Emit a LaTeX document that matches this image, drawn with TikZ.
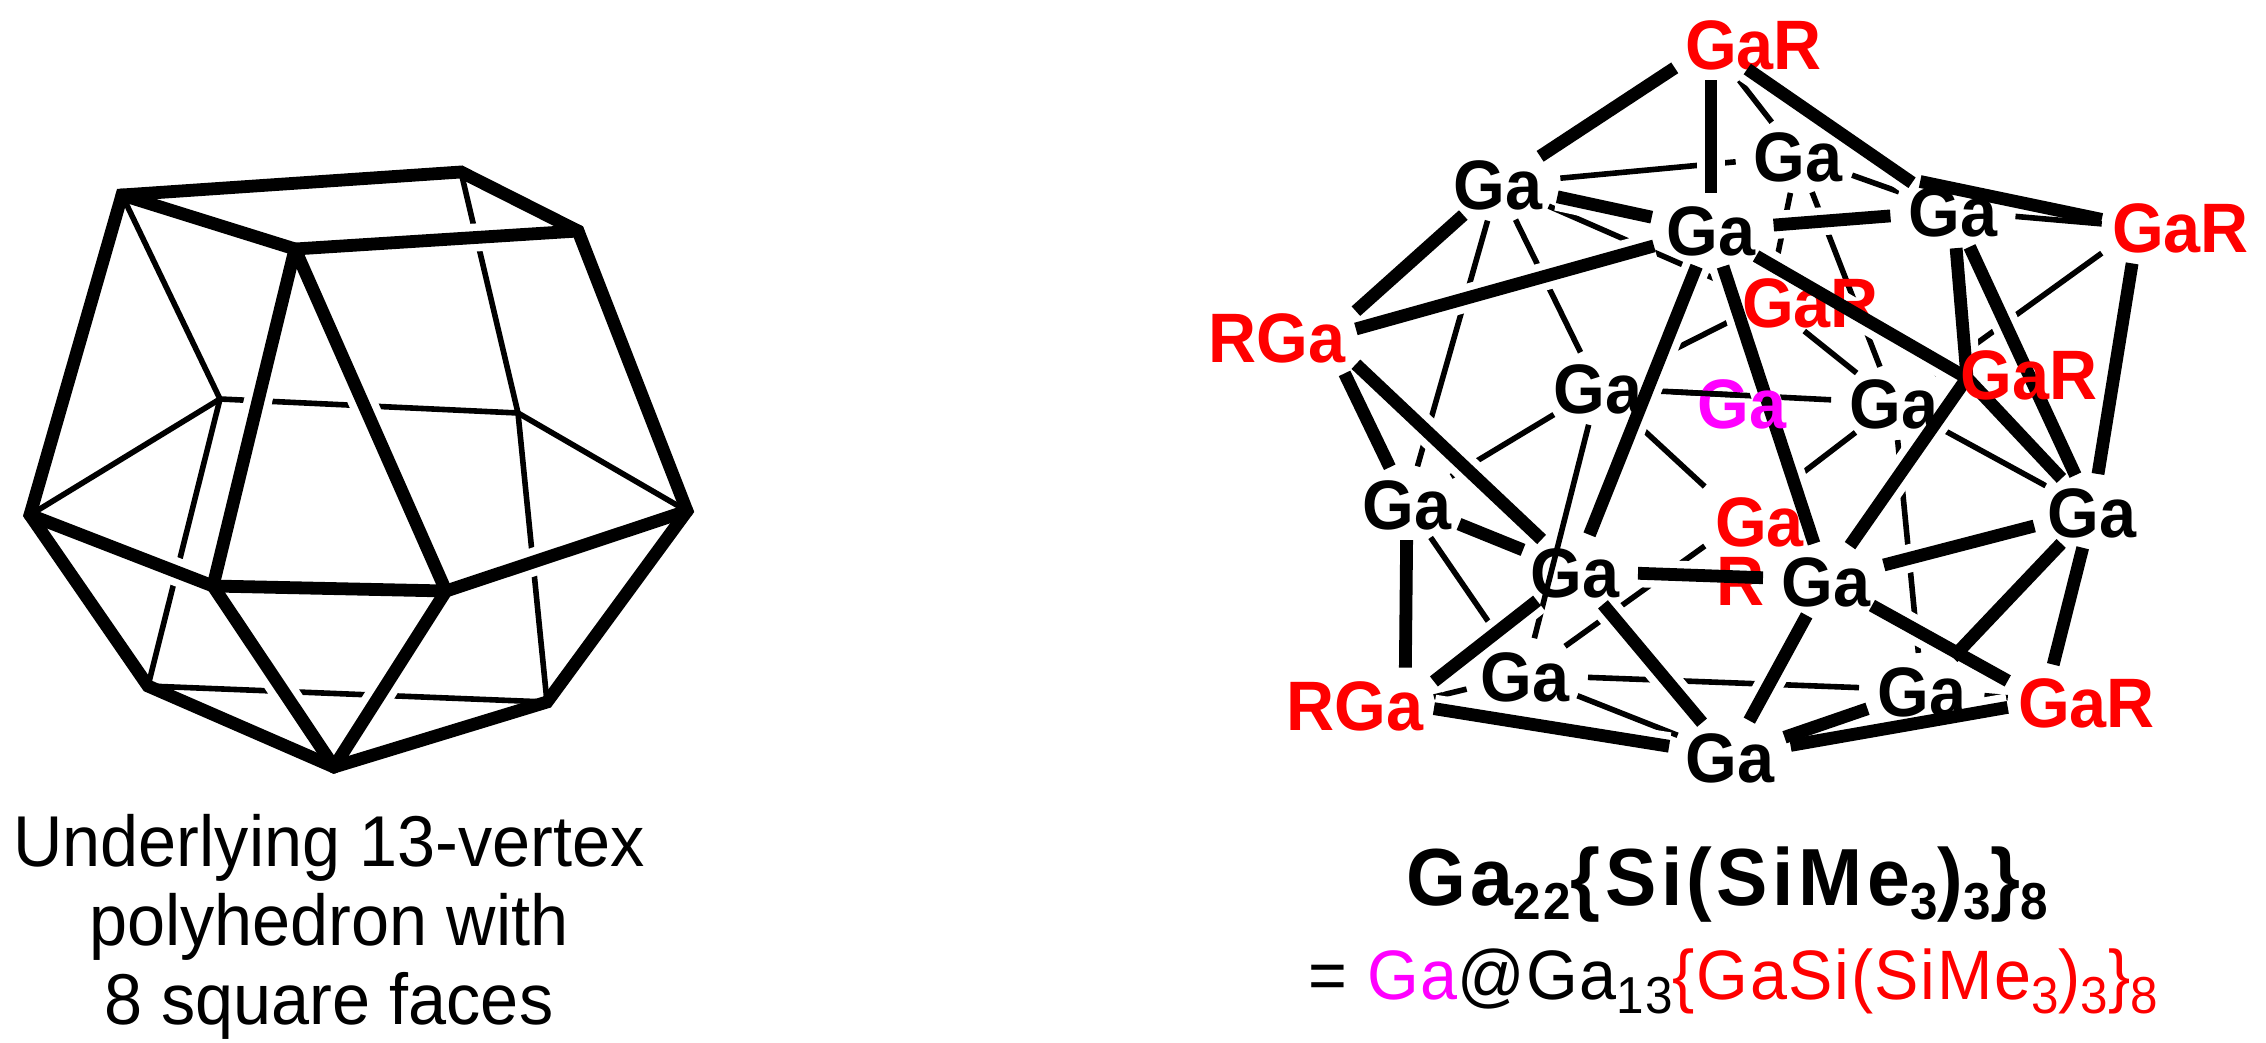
\documentclass[tikz,border=0pt]{standalone}
\usepackage{fontspec}
\setmainfont{Liberation Sans}[FakeStretch=0.95]
\usetikzlibrary{calc,shapes.geometric}
\pgfdeclarelayer{bonds}
\pgfdeclarelayer{front}
\pgfsetlayers{bonds,main,front}
\definecolor{gamag}{RGB}{255,0,255}
\newcommand{\lowsub}[1]{\raisebox{-7pt}{\fontsize{26}{26}\selectfont #1}}
\tikzset{
  polyedge/.style={line width=6.4pt, line join=miter, line cap=round},
  polythin/.style={line width=2.8pt},
  polygap/.style={white, line width=14pt, shorten <=16pt, shorten >=16pt},
  atom/.style={ellipse, inner sep=0pt, text height=26pt, text depth=0pt, font=\fontsize{35}{35}\selectfont\bfseries},
  redatom/.style={atom, rectangle, inner sep=5pt, red},
  thickbond/.style={line width=6.4pt},
  thinbond/.style={line width=2.8pt},
  gapbond/.style={white, line width=14pt}
}
\begin{document}
\begin{tikzpicture}[x=0.5pt, y=-0.5pt]
\useasboundingbox (0,0) rectangle (2266,1043);
% polyhedron
\coordinate (pa) at (122,195);
\coordinate (pb) at (461,172);
\coordinate (pc) at (578,231);
\coordinate (pd) at (295,249);
\coordinate (pe) at (30,515);
\coordinate (pf) at (220,399);
\coordinate (pg) at (518,413);
\coordinate (ph) at (687,511);
\coordinate (pi) at (213,586);
\coordinate (pj) at (446,591);
\coordinate (pk) at (148,686);
\coordinate (pl) at (547,702);
\coordinate (pm) at (334,767);
\draw[polythin](pa) -- (pf);
\draw[polythin](pe) -- (pf);
\draw[polythin](pk) -- (pf);
\draw[polythin](pf) -- (pg);
\draw[polythin](ph) -- (pg);
\draw[polythin](pb) -- (pg);
\draw[polythin](pl) -- (pg);
\draw[polythin](pk) -- (pl);
\foreach \a/\b in {pd/pc, pd/pi, pd/pj, pe/pi, pi/pm, pj/pm, pj/ph}
  \draw[polygap](\a) -- (\b);
\draw[polyedge](pa) -- (pb) -- (pc) -- (ph) -- (pl) -- (pm) -- (pk) -- (pe) -- cycle;
\draw[polyedge](pa) -- (pd) -- (pc);
\draw[polyedge](pe) -- (pi) -- (pj) -- (ph);
\draw[polyedge](pd) -- (pi);
\draw[polyedge](pd) -- (pj);
\draw[polyedge](pi) -- (pm);
\draw[polyedge](pj) -- (pm);
\node[align=center, font=\fontsize{36}{39.5}\selectfont] (polytext) at (329,927) {Underlying 13-vertex\\polyhedron with\\8 square faces};
% cluster atoms
\node[atom] (ga1) at (1498,184){Ga};
\node[atom] (ga2) at (1711,230){Ga};
\node[atom] (ga3) at (1798,156){Ga};
\node[atom] (ga4) at (1953,211){Ga};
\node[atom] (ga5) at (1598,388){Ga};
\node[atom] (ga6) at (1894,403){Ga};
\node[atom] (ga7) at (1407,503){Ga};
\node[atom] (ga8) at (1575,571){Ga};
\node[atom] (ga9) at (1525,675){Ga};
\node[atom] (ga10) at (1730,756){Ga};
\node[atom] (ga11) at (1826,580){Ga};
\node[atom] (ga12) at (2092,511){Ga};
\node[atom] (ga13) at (1922,690){Ga};
\node[redatom] (gt) at (1711,44){G\rlap{aR}};
\node[redatom] (grr) at (2138,227){G\rlap{aR}};
\node[redatom] (gri) at (1768,302){G\rlap{aR}};
\node[redatom] (grl) at (2044,701){G\rlap{aR}};
\node[redatom] (gru) at (1741,520){G\rlap{a}};
\node[redatom] (grv) at (1740,579){R};
\node[redatom] (rga) at (1327,337){\llap{RG}a};
\node[redatom] (rgb) at (1405,704){\llap{RG}a};
\coordinate (gr2c) at (1967,378);
\begin{pgfonlayer}{front}
\node[redatom] (gr2) at (2029,374){GaR};
\node[atom, gamag] (gm) at (1742,403){Ga};
\draw[thinbond, shorten <=6pt](ga5) -- ($(ga5.center)!0.48!(ga6.center)$);
\end{pgfonlayer}
% back bonds
\begin{pgfonlayer}{bonds}
\draw[thinbond](ga1) -- (ga3);
\draw[thinbond](ga1) -- (ga7);
\draw[thinbond](ga1) -- (ga5);
\draw[thinbond](ga3) -- (ga4);
\draw[thinbond](ga3) -- (ga6);
\draw[thinbond](ga5) -- (ga7);
\draw[thinbond](ga5) -- (ga9);
\draw[thinbond](ga5) -- (ga6);
\draw[thinbond](ga6) -- (ga12);
\draw[thinbond](ga6) -- (ga13);
\draw[thinbond](ga7) -- (ga9);
\draw[thinbond](ga9) -- (ga13);
\draw[thinbond](ga9) -- (ga10);
\draw[thinbond](gt) -- (ga3);
\draw[thinbond](grr) -- (ga4);
\draw[thinbond](grr) -- (ga6);
\draw[thinbond](gri) -- (ga1);
\draw[thinbond](gri) -- (ga3);
\draw[thinbond](gri) -- (ga5);
\draw[thinbond](gri) -- (ga6);
\draw[thinbond](gru) -- (ga5);
\draw[thinbond, shorten <=10pt](gru) -- (ga6);
\draw[thinbond](gru) -- (ga9);
\draw[thinbond](rgb) -- (ga9);
\draw[thinbond](grl) -- (ga13);
\end{pgfonlayer}
% front bonds
\def\thickbonds{gt/ga1, gt/ga2, gt/ga4, rga/ga1, rga/ga2, rga/ga7, rga/ga8, ga1/ga2, ga2/ga4, ga2/ga8, ga2/ga11, ga2/gr2c, gr2c/ga4, gr2c/ga11, gr2c/ga12, ga4/ga12, grr/ga12, ga7/ga8, rgb/ga7, rgb/ga8, rgb/ga10, ga8/ga11, ga8/ga10, ga11/ga10, ga11/ga12, ga13/ga12, ga13/ga10, grl/ga11, grl/ga12, grl/ga10}
\begin{pgfonlayer}{bonds}
\foreach \a/\b in \thickbonds
  \draw[gapbond](\a) -- (\b);
\end{pgfonlayer}
\foreach \a/\b in \thickbonds
  \draw[thickbond](\a) -- (\b);
\draw[thickbond, shorten >=32pt](grr) -- (ga3);
% captions
\node[font=\fontsize{40.5}{40.5}\selectfont\bfseries\addfontfeature{LetterSpace=5.5}] (formula) at (1727,885) {Ga\lowsub{22}\{Si(SiMe\lowsub{3})\lowsub{3}\}\lowsub{8}};
\node[font=\fontsize{35}{35}\selectfont\addfontfeature{LetterSpace=2.3}] (formulb) at (1733,981) {= \textcolor{gamag}{Ga}@Ga\lowsub{13}\textcolor{red}{\{GaSi(SiMe\lowsub{3})\lowsub{3}\}\lowsub{8}}};
\end{tikzpicture}
\end{document}
